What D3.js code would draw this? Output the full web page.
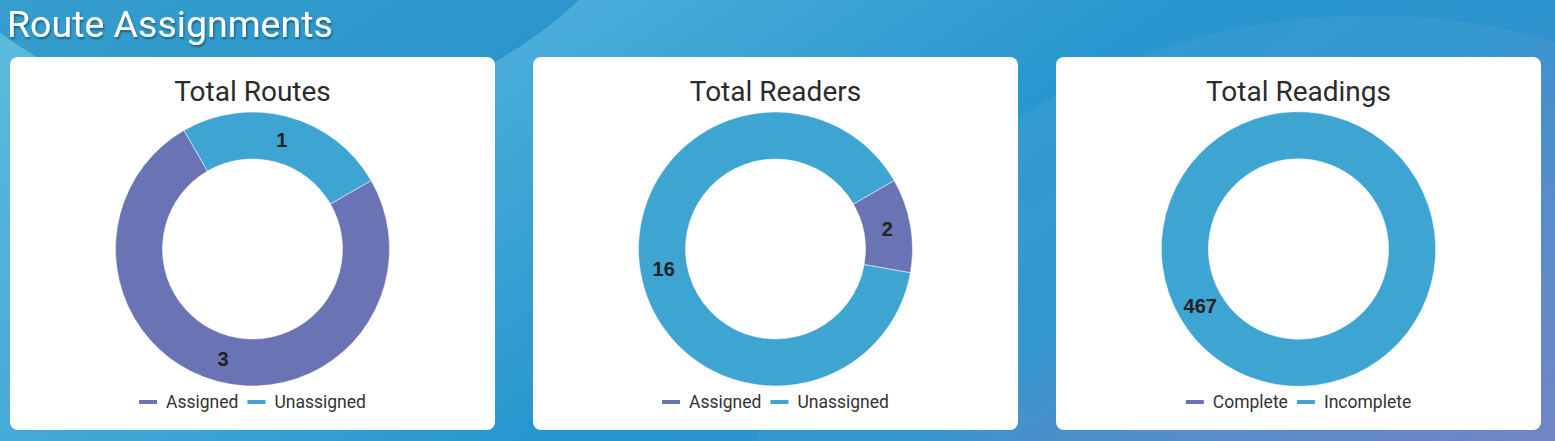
<!DOCTYPE html>
<html>
<head>
<meta charset="utf-8">
<script src="https://cdn.jsdelivr.net/npm/d3@7"></script>
<style>
  html, body { margin: 0; padding: 0; overflow: hidden; }
  svg { display: block; }
</style>
</head>
<body>
<svg id="chart" width="1555" height="441"></svg>
<script>
// Dashboard data: one donut per metric
const panelTitles = ["Total Routes", "Total Readers", "Total Readings"];
const routeLabels = ["Assigned", "Unassigned"];
const routeValues = [3, 1];
const readerLabels = ["Assigned", "Unassigned"];
const readerValues = [2, 16];
const readingLabels = ["Complete", "Incomplete"];
const readingValues = [0, 467];
const sliceColors = ["#6a74b4", "#3ea4d1"];

const panels = [
  { title: panelTitles[0], labels: routeLabels, values: routeValues },
  { title: panelTitles[1], labels: readerLabels, values: readerValues },
  { title: panelTitles[2], labels: readingLabels, values: readingValues }
];

const W = 1555, H = 441;
const svg = d3.select("#chart");
const defs = svg.append("defs");

// Background gradient
const bg = defs.append("linearGradient").attr("id", "bg")
  .attr("gradientUnits", "userSpaceOnUse")
  .attr("x1", 0).attr("y1", 0).attr("x2", 684).attr("y2", 1026);
[[0, "#5cbcdc"], [0.26, "#4aadd8"], [0.53, "#2896cf"], [0.70, "#2b93cd"],
 [0.76, "#3f8bc9"], [1, "#6d7ec2"]].forEach(([o, c]) =>
  bg.append("stop").attr("offset", o).attr("stop-color", c));

const shadow = defs.append("filter").attr("id", "tshadow")
  .attr("x", "-10%").attr("y", "-20%").attr("width", "120%").attr("height", "150%");
shadow.append("feDropShadow").attr("dx", 1).attr("dy", 2).attr("stdDeviation", 1)
  .attr("flood-color", "#000").attr("flood-opacity", 0.4);

svg.append("rect").attr("width", W).attr("height", H).attr("fill", "url(#bg)");
// decorative overlays
svg.append("circle").attr("cx", 270).attr("cy", -330).attr("r", 452)
  .attr("fill", "#0d7fbf").attr("fill-opacity", 0.5);
svg.append("circle").attr("cx", 1370).attr("cy", 670).attr("r", 655)
  .attr("fill", "#ffffff").attr("fill-opacity", 0.05);

svg.append("text")
  .attr("x", 7).attr("y", 37)
  .attr("font-family", "Roboto")
  .attr("font-size", 37.5)
  .attr("fill", "#ffffff")
  .attr("filter", "url(#tshadow)")
  .text("Route Assignments");

const cardW = 485, cardH = 373, cardY = 57;
const cardX = d3.scaleOrdinal().domain(d3.range(3)).range([10, 533, 1056]);

const outerR = 137, innerR = 90;
const pie = d3.pie().sort(null).value(d => d).startAngle(Math.PI / 3).endAngle(Math.PI / 3 + 2 * Math.PI);
const arc = d3.arc().innerRadius(innerR).outerRadius(outerR);
const color = d3.scaleOrdinal().domain([0, 1]).range(sliceColors);

panels.forEach((p, i) => {
  const x0 = cardX(i);
  const cx = x0 + cardW / 2;
  const g = svg.append("g");
  g.append("rect").attr("x", x0).attr("y", cardY).attr("width", cardW).attr("height", cardH)
    .attr("rx", 8).attr("fill", "#ffffff");

  g.append("text").attr("x", cx).attr("y", 101)
    .attr("text-anchor", "middle")
    .attr("font-family", "Roboto").attr("font-size", 28)
    .attr("fill", "#2b2b2b").text(p.title);

  const donut = g.append("g").attr("transform", `translate(${cx},249)`);
  const arcs = pie(p.values);
  donut.selectAll("path").data(arcs).join("path")
    .attr("d", arc).attr("fill", (d, j) => color(j))
    .attr("stroke", "#ffffff").attr("stroke-width", 0.5);
  donut.selectAll("text").data(arcs.filter(d => d.value > 0)).join("text")
    .attr("transform", d => `translate(${arc.centroid(d)})`)
    .attr("text-anchor", "middle").attr("dy", "0.36em")
    .attr("font-family", "Liberation Sans, Arial, sans-serif")
    .attr("font-weight", "bold").attr("font-size", 20)
    .attr("fill", "#222222").text(d => d.value);

  // legend
  const leg = g.append("g");
  const items = leg.selectAll("g").data(p.labels).join("g");
  items.append("line").attr("x1", 0).attr("x2", 18).attr("y1", 0).attr("y2", 0)
    .attr("stroke", (d, j) => color(j)).attr("stroke-width", 4);
  const texts = items.append("text").attr("x", 27).attr("y", 6)
    .attr("font-family", "Roboto").attr("font-size", 17.5)
    .attr("fill", "#333333").text(d => d);
  let off = 0;
  const widths = [];
  texts.each(function () { widths.push(this.getComputedTextLength()); });
  items.attr("transform", (d, j) => {
    const t = `translate(${off},0)`;
    off += 27 + widths[j] + 9;
    return t;
  });
  const total = off - 9;
  leg.attr("transform", `translate(${cx - total / 2},402)`);
});
</script>
</body>
</html>
